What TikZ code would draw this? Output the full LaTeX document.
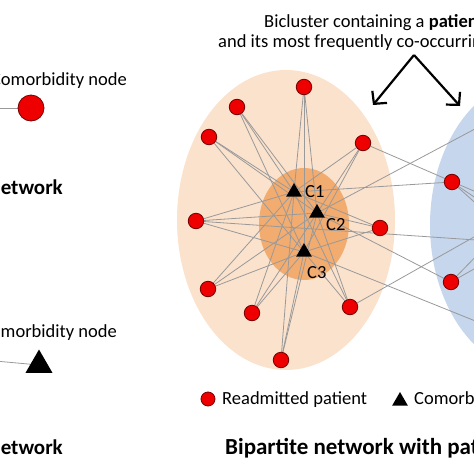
\documentclass[tikz,border=0pt]{standalone}
\usepackage{fontspec}
\setmainfont{Carlito}
\usetikzlibrary{shapes.geometric,arrows.meta}

\definecolor{peach}{RGB}{251,226,205}
\definecolor{darkpeach}{RGB}{242,172,112}
\definecolor{paleblue}{RGB}{198,214,237}
\definecolor{nodered}{RGB}{238,0,0}

\pgfdeclarelayer{bg}
\pgfdeclarelayer{edges}
\pgfsetlayers{bg,edges,main}

\begin{document}
\begin{tikzpicture}[
  x=1pt, y=-1pt,
  patnode/.style={circle, draw=red!45!black, fill=nodered, line width=0.8pt, inner sep=0pt, minimum size=15.5pt},
  comnode/.style={regular polygon, regular polygon sides=3, fill=black, inner sep=0pt, minimum size=18pt},
  edgeline/.style={draw=black!40, line width=0.8pt},
  bigarrow/.style={-{Straight Barb[length=9pt,width=19pt]}, line width=2.2pt},
  lbl/.style={font=\fontsize{18.5}{22}\selectfont, inner sep=0pt},
  ttl/.style={font=\fontsize{21}{25}\selectfont\bfseries, inner sep=0pt}
]
  \useasboundingbox (0,0) rectangle (474,474);
  \clip (0,0) rectangle (474,474);

  % clusters
  \begin{pgfonlayer}{bg}
    \clip (0,0) rectangle (474,474);
    \fill[peach] (286,220) ellipse [x radius=109pt, y radius=150pt];
    \fill[darkpeach] (304,224) ellipse [x radius=45pt, y radius=56pt];
    \fill[paleblue] (538,225) ellipse [x radius=108pt, y radius=148pt];
  \end{pgfonlayer}

  % left legends
  \coordinate (l1start) at (-5,108);
  \node[patnode, minimum size=26pt] (bigpat) at (31,108) {};
  \node[lbl, anchor=base east] (l1txt) at (127,85) {Comorbidity node};
  \node[ttl, anchor=base east] (net1) at (63,194) {network};

  \coordinate (l2start) at (-5,361);
  \node[comnode, minimum size=31pt] (bigcom) at (39,365) {};
  \node[lbl, anchor=base east] (l2txt) at (117,337) {Comorbidity node};
  \node[ttl, anchor=base east] (net2) at (63,454) {network};

  % patients
  \node[patnode] (p1) at (304,87) {};
  \node[patnode] (p2) at (237,107) {};
  \node[patnode] (p3) at (209,137) {};
  \node[patnode] (p4) at (363,143) {};
  \node[patnode] (p5) at (196,221) {};
  \node[patnode] (p6) at (380,228) {};
  \node[patnode] (p7) at (208,289) {};
  \node[patnode] (p8) at (252,313) {};
  \node[patnode] (p9) at (350,307) {};
  \node[patnode] (p10) at (281,360) {};
  \node[patnode] (p11) at (452,182) {};
  \node[patnode] (p12) at (451,282) {};

  % comorbidities
  \node[comnode] (c1) at (294,192) {};
  \node[comnode] (c2) at (317,213) {};
  \node[comnode] (c3) at (304,252) {};
  \node[lbl, anchor=base west] (c1lbl) at (305,197) {C1};
  \node[lbl, anchor=base west] (c2lbl) at (326,230) {C2};
  \node[lbl, anchor=base west] (c3lbl) at (307,278) {C3};

  % off-picture nodes of the blue cluster
  \coordinate (bp1) at (520,105);
  \coordinate (bp2) at (520,339);
  \coordinate (bc1) at (520,211);
  \coordinate (bc2) at (520,228);
  \coordinate (bc3) at (520,243);

  \begin{pgfonlayer}{edges}
    \clip (0,0) rectangle (474,474);
    \draw[edgeline] (l1start) -- (bigpat);
    \draw[edgeline] (l2start) -- (bigcom);
    \foreach \i in {1,...,10}
      \foreach \c in {c1,c2,c3}
        \draw[edgeline] (p\i) -- (\c);
    \draw[edgeline] (p11) -- (c1);
    \draw[edgeline] (p12) -- (c2);
    \draw[edgeline] (bp1) -- (c2);
    \draw[edgeline] (c3) -- (bp2);
    \draw[edgeline] (p4) -- (bc1);
    \draw[edgeline] (p9) -- (bc1);
    \draw[edgeline] (p12) -- (bc1);
    \draw[edgeline] (p11) -- (bc2);
    \draw[edgeline] (p11) -- (bc3);
    \draw[edgeline] (p5) -- (bc3);
    \draw[edgeline] (p12) -- (bc3);
  \end{pgfonlayer}

  % bicluster note
  \node[lbl, anchor=base west] (note1) at (264,27) {Bicluster containing a \textbf{patient group}};
  \node[lbl, anchor=base west] (note2) at (218,47) {and its most frequently co-occurring comorbidities};
  \coordinate (apex) at (414,55);
  \coordinate (tipl) at (373,105);
  \coordinate (tipr) at (460,106);
  \draw[bigarrow] (apex) -- (tipl);
  \draw[bigarrow] (apex) -- (tipr);

  % bottom legend
  \node[patnode, minimum size=14pt] (legpat) at (208,399) {};
  \node[lbl, anchor=base west] (legpattxt) at (222,404) {Readmitted patient};
  \node[comnode] (legcom) at (400,401) {};
  \node[lbl, anchor=base west] (legcomtxt) at (414,404) {Comorbidity};

  \node[ttl, font=\fontsize{23}{27}\selectfont\bfseries, anchor=base west] (bititle) at (225,454) {Bipartite network with patient biclusters};
\end{tikzpicture}
\end{document}
